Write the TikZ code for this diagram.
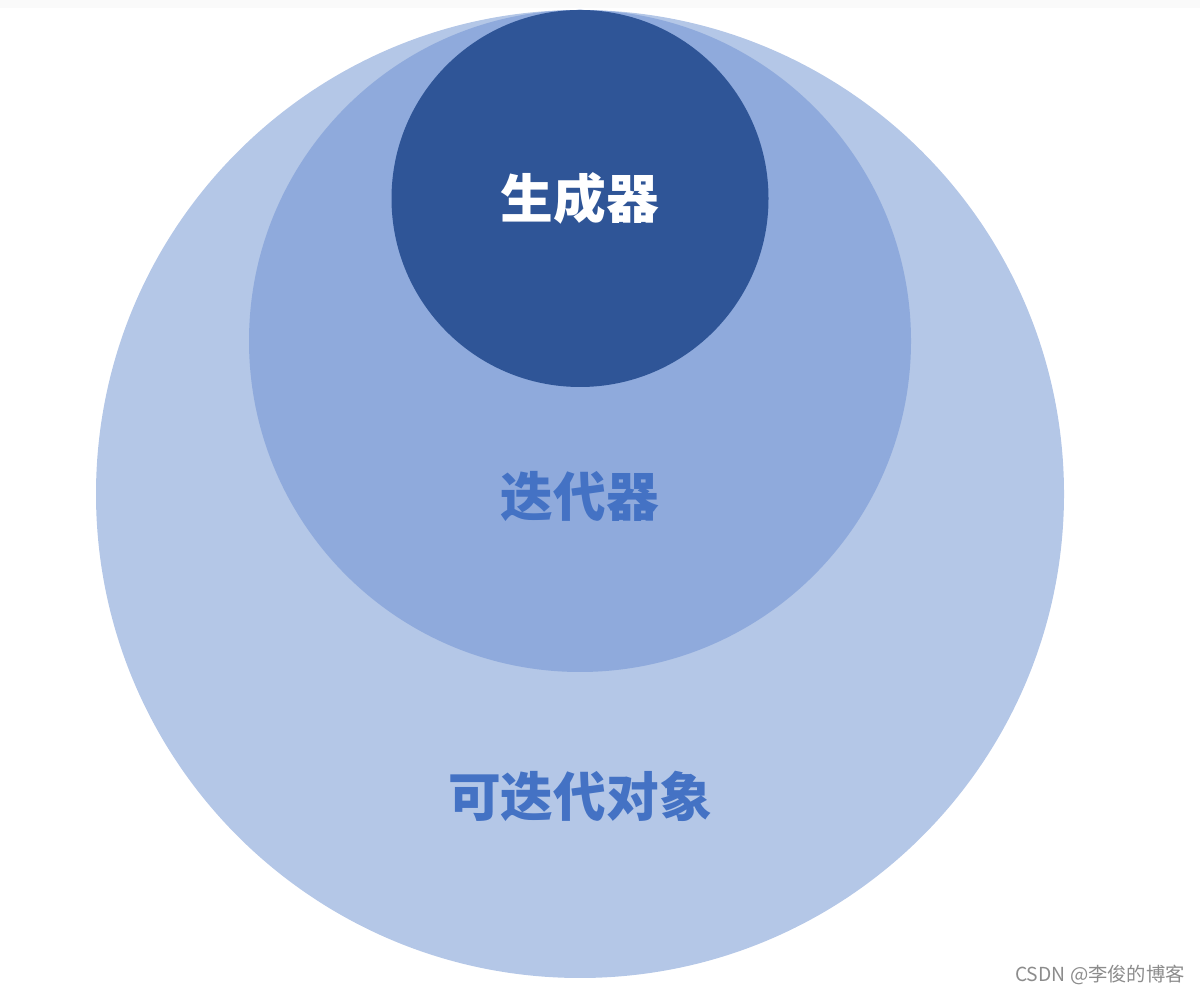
\documentclass[tikz,border=0pt]{standalone}
\usepackage{fontspec}
\newfontfamily\cjk{Noto Sans CJK SC}
\usepackage{xcolor}
\usepackage{tikz}
\usetikzlibrary{positioning}

\definecolor{outerblue}{HTML}{B4C7E7}
\definecolor{midblue}{HTML}{8FAADC}
\definecolor{innerblue}{HTML}{2F5597}
\definecolor{labelblue}{HTML}{4472C4}

\begin{document}
\begin{tikzpicture}[
  ring/.style={circle, inner sep=0pt, draw=none},
  lbl/.style={font=\cjk\bfseries\fontsize{30}{33}\selectfont, text=labelblue, inner sep=0pt},
  wmark/.style={font=\cjk\fontsize{11}{13}\selectfont, text=black!45, inner sep=0pt}
]
  \useasboundingbox (0,0) rectangle (24,19.9);
  \fill[black!2] (0,19.74) rectangle (24,19.9);

  % nested sets
  \node[ring, fill=outerblue, minimum size=19.36cm] (iterable) at (11.6,10.02) {};
  \node[ring, fill=midblue, minimum size=13.24cm] (iterator) at (11.6,13.08) {};
  \node[ring, fill=innerblue, minimum size=7.54cm] (generator) at (11.6,15.93) {};

  \node[lbl, text=white] (genlbl) at (11.6,15.93) {生成器};
  \node[lbl] (itlbl) at (11.6,9.98) {迭代器};
  \node[lbl] (iterlbl) at (11.6,3.98) {可迭代对象};

  \node[wmark] (wm) at (22.0,0.4) {CSDN @李俊的博客};
\end{tikzpicture}
\end{document}
